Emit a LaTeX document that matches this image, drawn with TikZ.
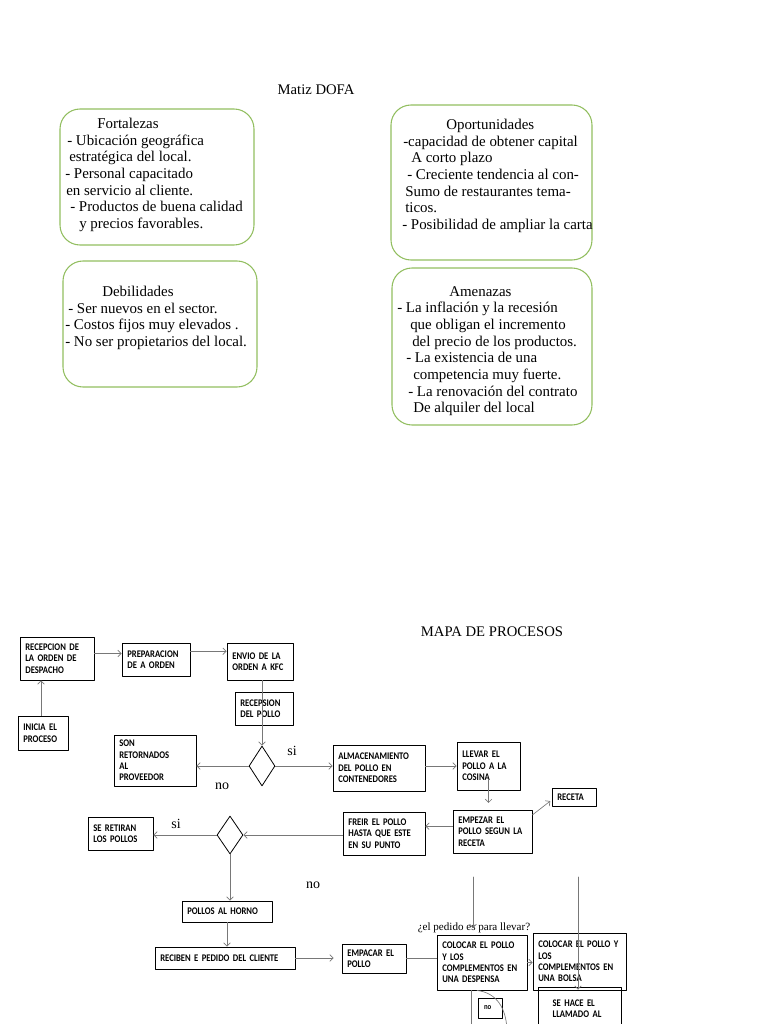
\documentclass[tikz,border=0pt]{standalone}
\usepackage{fontspec}
\setmainfont{Liberation Serif}
\newfontfamily\cajafont[FakeStretch=0.85]{Carlito}
\usetikzlibrary{arrows.meta,shapes.geometric}

\definecolor{verdedofa}{RGB}{146,190,96}
\definecolor{gris}{RGB}{120,120,120}

\tikzset{
  dofa/.style={draw=verdedofa, line width=0.8pt, rounded corners=15pt},
  dofatxt/.style={align=left, anchor=north west, inner sep=0pt, font=\fontsize{11.2}{12.5}\selectfont},
  titulo/.style={inner sep=0pt, font=\fontsize{11}{13}\selectfont},
  caja/.style={draw, line width=0.6pt, align=left, inner xsep=4pt, inner ysep=2pt,
    font=\cajafont\bfseries\fontsize{7.6}{8.6}\selectfont},
  decision/.style={draw, diamond, line width=0.6pt, inner sep=0pt, minimum width=19.5pt},
  flecha/.style={draw=gris, line width=0.5pt, -{Straight Barb[length=2.5pt,width=5pt]}},
  linea/.style={draw=gris, line width=0.5pt},
  etiq/.style={inner sep=0pt, font=\fontsize{10.5}{12}\selectfont}
}

\begin{document}
\begin{tikzpicture}[x=0.75pt, y=-0.75pt, >=Latex, line cap=round, line join=round]
  \path[use as bounding box, clip] (0,0) rectangle (768,1024);

  % --- Matriz DOFA ---
  \node[titulo] (tdofa) at (316,90) {Matiz DOFA};

  \node[dofa, minimum width=145.5pt, minimum height=102pt] (fort) at (157,177) {};
  \node[dofatxt] (tfort) at (65,118) {%
    \hspace*{24pt}Fortalezas\\
    \hspace*{1.5pt}- Ubicación geográfica\\
    \hspace*{3pt}estratégica del local.\\
    - Personal capacitado\\
    \hspace*{0.75pt}en servicio al cliente.\\
    \hspace*{3.75pt}- Productos de buena calidad\\
    \hspace*{10.5pt}y precios favorables.};

  \node[dofa, minimum width=145.5pt, minimum height=94.5pt] (deb) at (160,324) {};
  \node[dofatxt] (tdeb) at (65,286) {%
    \hspace*{27.75pt}Debilidades\\
    \hspace*{2.25pt}- Ser nuevos en el sector.\\
    - Costos fijos muy elevados .\\
    - No ser propietarios del local.};

  \node[dofa, minimum width=150.75pt, minimum height=116.25pt] (opor) at (491.5,182.5) {};
  \node[dofatxt] (topor) at (402,119) {%
    \hspace*{33pt}Oportunidades\\
    \hspace*{0.75pt}-capacidad de obtener capital\\
    \hspace*{6.75pt}A corto plazo\\
    \hspace*{3.75pt}- Creciente tendencia al con-\\
    \hspace*{2.25pt}Sumo de restaurantes tema-\\
    \hspace*{2.25pt}ticos.\\
    - Posibilidad de ampliar la carta};

  \node[dofa, minimum width=150pt, minimum height=117.75pt] (amen) at (492,346.5) {};
  \node[dofatxt] (tamen) at (397,286) {%
    \hspace*{39pt}Amenazas\\
    - La inflación y la recesión\\
    \hspace*{9.75pt}que obligan el incremento\\
    \hspace*{11.25pt}del precio de los productos.\\
    \hspace*{6.75pt}- La existencia de una\\
    \hspace*{12pt}competencia muy fuerte.\\
    \hspace*{8.25pt}- La renovación del contrato\\
    \hspace*{12pt}De alquiler del local};

  % --- Mapa de procesos ---
  \node[titulo] (tmapa) at (492,632) {MAPA DE PROCESOS};

  \node[caja, text width=47.5pt, minimum height=32.25pt] (recepcion) at (57,658.5) {RECEPCION DE\\LA ORDEN DE\\DESPACHO};
  \node[caja, text width=43pt, minimum height=24.75pt] (prepara) at (156,659.5) {PREPARACION\\DE A ORDEN};
  \node[caja, text width=41.5pt, minimum height=27.75pt] (envio) at (260,661.5) {ENVIO DE LA\\ORDEN A KFC};
  \node[caja, text width=35.5pt, minimum height=24.75pt] (recepsion) at (264,708.5) {RECEPSION\\DEL POLLO};
  \node[caja, text width=29.5pt, minimum height=25.5pt] (inicia) at (43,733) {INICIA EL\\PROCESO};
  \node[caja, text width=53.5pt, minimum height=38.25pt] (retorna) at (155,760.5) {SON\\RETORNADOS\\AL\\PROVEEDOR};
  \node[decision, minimum height=30pt] (dec1) at (262,766) {};
  \node[caja, text width=61pt, minimum height=34.5pt] (almacen) at (379,768) {ALMACENAMIENTO\\DEL POLLO EN\\CONTENEDORES};
  \node[caja, text width=39.25pt, minimum height=36pt] (llevar) at (488.5,766) {LLEVAR EL\\POLLO A LA\\COSINA};
  \node[caja, text width=25pt, minimum height=13.5pt] (receta) at (574,797) {RECETA};
  \node[caja, text width=51.25pt, minimum height=32.25pt] (empezar) at (492.5,831.5) {EMPEZAR EL\\POLLO SEGUN LA\\RECETA};
  \node[caja, text width=53.5pt, minimum height=32.25pt] (freir) at (384,833.5) {FREIR EL POLLO\\HASTA QUE ESTE\\EN SU PUNTO};
  \node[decision, minimum height=28.5pt] (dec2) at (230,835) {};
  \node[caja, text width=40.75pt, minimum height=24.75pt] (retiran) at (120.5,833.5) {SE RETIRAN\\LOS POLLOS};
  \node[caja, text width=59.5pt, minimum height=15.75pt] (horno) at (227,911.5) {POLLOS AL HORNO};
  \node[caja, text width=97pt, minimum height=16.5pt] (reciben) at (225,958) {RECIBEN E PEDIDO DEL CLIENTE};
  \node[caja, text width=40pt, minimum height=21.75pt] (empacar) at (374,958.5) {EMPACAR EL\\POLLO};
  \node[caja, text width=59.5pt, minimum height=41.25pt] (despensa) at (482,962.5) {COLOCAR EL POLLO\\Y LOS\\COMPLEMENTOS EN\\UNA DESPENSA};
  \node[caja, text width=61.75pt, minimum height=42.75pt] (bolsa) at (579.5,961.5) {COLOCAR EL POLLO Y\\LOS\\COMPLEMENTOS EN\\UNA BOLSA};
  \node[caja, anchor=north, inner xsep=11pt, inner ysep=9pt, text width=40.25pt, text depth=22pt] (llamado) at (579.5,987) {SE HACE EL\\LLAMADO AL};
  \node[caja, text width=9.75pt, minimum height=15pt, font=\cajafont\bfseries\fontsize{6}{7}\selectfont] (nocaja) at (490.5,1008) {no};

  % etiquetas
  \node[etiq] (si1) at (292,751) {si};
  \node[etiq] (no1) at (222,786) {no};
  \node[etiq] (si2) at (176,824) {si};
  \node[etiq] (no2) at (313,885) {no};
  \node[inner sep=0pt, font=\fontsize{8.3}{10}\selectfont] (pregunta) at (474,928) {¿el pedido es para llevar?};

  % conectores
  \draw[flecha] (recepcion.east |- prepara.170) -- (prepara.170);
  \draw[flecha] (prepara.east |- envio.163) -- (envio.163);
  \draw[flecha] (inicia.north -| 41,0) -- (recepcion.south -| 41,0);
  \draw[flecha] (envio.south -| dec1.north) -- (dec1.north);
  \draw[flecha] (dec1.west) -- (dec1.west -| retorna.east);
  \draw[flecha] (dec1.east) -- (dec1.east -| almacen.west);
  \draw[flecha] (almacen.east |- llevar.west) -- (llevar.west);
  \draw[flecha, shorten >=5pt] ([yshift=8pt]llevar.south) -- (llevar.south |- empezar.north);
  \draw[flecha] ([yshift=-4pt]empezar.north east) -- ([xshift=-1pt,yshift=4pt]receta.south west);
  \draw[flecha] ([yshift=4pt]empezar.west) -- ([yshift=4pt]empezar.west -| freir.east);
  \draw[flecha] (freir.west |- dec2.east) -- (dec2.east);
  \draw[flecha] (dec2.west) -- (dec2.west -| retiran.east);
  \draw[flecha] (dec2.south) -- (dec2.south |- horno.north);
  \draw[flecha] (horno.south) -- (horno.south |- reciben.north);
  \draw[flecha, shorten >=6pt] (reciben.east) -- (reciben.east -| empacar.west);
  \draw[linea] (empacar.east) -- (empacar.east -| despensa.west);
  \draw[flecha] (despensa.east) -- (despensa.east -| bolsa.west);

  \coordinate (llega1) at (473,877);
  \coordinate (llega2) at (578,877);
  \draw[flecha] (llega1) -- (llega1 |- pregunta.center);
  \draw[flecha] (llega2) -- ([yshift=-2pt]llega2 |- llamado.north);
  \draw[linea] (despensa.south -| 471,0) -- ++(0,40);
  \draw[linea] (despensa.south -| 477,0) .. controls (497,993) and (506,1008) .. (507,1030);
\end{tikzpicture}
\end{document}
